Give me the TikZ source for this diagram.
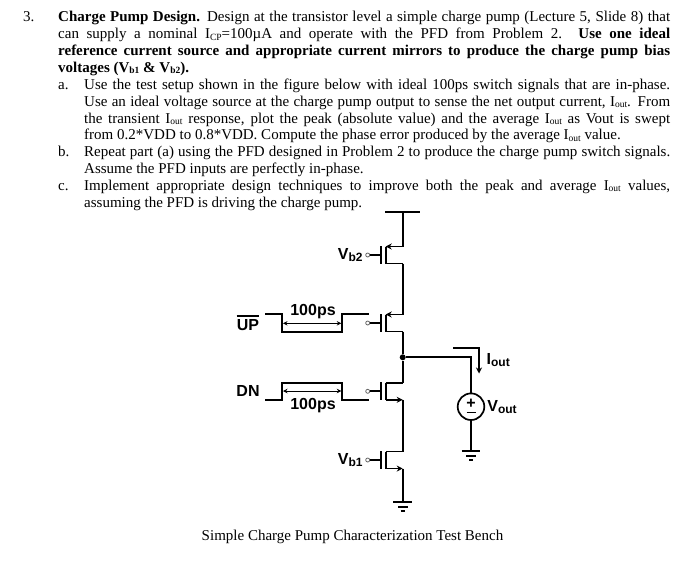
\documentclass[tikz,border=0pt]{standalone}
\usepackage{fontspec}
\setmainfont{Liberation Serif}
\newfontfamily\circuitfont{Liberation Sans}
\usetikzlibrary{positioning, arrows.meta}
\newcommand{\textsub}[1]{\raisebox{-0.2ex}{\fontsize{9.5}{10}\selectfont #1}}
\newcommand{\lblsub}[1]{\raisebox{-0.25ex}{\fontsize{12}{12}\selectfont #1}}
\tikzset{wire/.style={draw=black, line width=1.7pt},
  pulse/.style={draw=black, line width=1.8pt},
  span/.style={draw=black, line width=0.9pt, {Stealth[length=4.5pt,width=4.5pt]}-{Stealth[length=4.5pt,width=4.5pt]}},
  tip/.style={draw=black, line width=1.7pt, -{Stealth[length=6pt,width=6pt]}},
  bubble/.style={draw=black!60, circle, fill=white, line width=0.8pt, inner sep=0pt, minimum size=4pt},
  dot/.style={fill=black, circle, inner sep=0pt, minimum size=6pt},
  lbl/.style={font=\circuitfont\bfseries\fontsize{16}{18}\selectfont, inner sep=0pt},
  para/.style={anchor=north west, inner sep=0pt, align=justify, font=\fontsize{15}{16.85}\selectfont},
  item/.style={anchor=north west, inner sep=0pt, font=\fontsize{15}{16.85}\selectfont}}

\begin{document}
\begin{tikzpicture}[x=1pt, y=-1pt]
\useasboundingbox (0,0) rectangle (700,579);
% problem text
\node[item] (numq) at (23,10) {\strut 3.};
\node[para, text width=612pt] (question) at (58,10) {\strut\textbf{Charge Pump Design.} Design at the transistor level a simple charge pump (Lecture 5, Slide 8) that\linebreak
can supply a nominal I\textsub{CP}=100µA and operate with the PFD from Problem 2. \textbf{Use one ideal\linebreak
reference current source and appropriate current mirrors to produce the charge pump bias\linebreak
voltages (V\textsub{b1} \& V\textsub{b2}).}};
\node[item] (numa) at (58,77.3) {\strut a.};
\node[para, text width=586pt] (parta) at (84,77.3) {\strut Use the test setup shown in the figure below with ideal 100ps switch signals that are in-phase.\linebreak
Use an ideal voltage source at the charge pump output to sense the net output current, I\textsub{out}. From\linebreak
the transient I\textsub{out} response, plot the peak (absolute value) and the average I\textsub{out} as Vout is swept\linebreak
from 0.2*VDD to 0.8*VDD. Compute the phase error produced by the average I\textsub{out} value.};
\node[item] (numb) at (58,144.7) {\strut b.};
\node[para, text width=586pt] (partb) at (84,144.7) {\strut Repeat part (a) using the PFD designed in Problem 2 to produce the charge pump switch signals.\linebreak
Assume the PFD inputs are perfectly in-phase.};
\node[item] (numc) at (58,178.4) {\strut c.};
\node[para, text width=586pt] (partc) at (84,178.4) {\strut Implement appropriate design techniques to improve both the peak and average I\textsub{out} values,\linebreak
assuming the PFD is driving the charge pump.};
% transistor terminals
\foreach \m/\y in {mbtwo/255, mup/323, mdn/391.3, mbone/460} {
  \coordinate (\m g) at (380.7,\y);
  \coordinate (\m gt) at (380.7,\y-9);
  \coordinate (\m gb) at (380.7,\y+9);
  \coordinate (\m ct) at (385.7,\y-8.5);
  \coordinate (\m cb) at (385.7,\y+8.5);
  \coordinate (\m t) at (402.7,\y-8.5);
  \coordinate (\m b) at (402.7,\y+8.5);
  \node[bubble] (\m in) at (367.7,\y) {};
  \draw[wire] (\m in) -- (\m g);
  \draw[wire] (\m gt) -- (\m gb);
  \draw[wire] (\m ct) -- (\m cb);
}
\foreach \m in {mbtwo, mup} {
  \draw[wire] (\m cb) -- (\m b);
  \draw[tip] (\m t) -- (\m ct);
}
\foreach \m in {mdn, mbone} {
  \draw[wire] (\m ct) -- (\m t);
  \draw[tip] (\m cb) -- (\m b);
}
% stack
\coordinate (vddl) at (385,212);
\coordinate (vddr) at (420,212);
\coordinate (vdd) at (402.7,212);
\coordinate (gndc) at (402.7,502.3);
\node[dot] (out) at (402.7,357.3) {};
\draw[wire] (vddl) -- (vddr);
\draw[wire] (vdd) -- (mbtwot);
\draw[wire] (mbtwob) -- (mupt);
\draw[wire] (mupb) -- (out);
\draw[wire] (out) -- (mdnt);
\draw[wire] (mdnb) -- (mbonet);
\draw[wire] (mboneb) -- (gndc);
\draw[wire] (393,502.3) -- (412,502.3);
\draw[wire] (398,507) -- (407.5,507);
\draw[wire] (400.5,511) -- (405,511);
% voltage source
\node[draw=black, circle, line width=1.7pt, minimum size=26.6pt, inner sep=0pt] (vsrc) at (471,406.7) {};
\node[inner sep=0pt, font=\circuitfont\bfseries\fontsize{16}{16}\selectfont] (vsrcp) at (471,403.5) {+};
\draw[wire] (466.5,412.5) -- (475.5,412.5);
\coordinate (outr) at (471,357.3);
\coordinate (gndv) at (471,450.7);
\draw[wire] (out) -- (outr) -- (vsrc);
\draw[wire] (vsrc) -- (gndv);
\draw[wire] (461.7,450.7) -- (480,450.7);
\draw[wire] (466,455.7) -- (476,455.7);
\draw[wire] (469,460) -- (473,460);
% output current
\coordinate (ioutl) at (453,348.3);
\coordinate (ioutc) at (479,348.3);
\coordinate (ioutb) at (479,373.5);
\draw[tip] (ioutl) -- (ioutc) -- (ioutb);
\node[lbl, anchor=west] (iout) at (486.5,360) {I\lblsub{out}};
\node[lbl, right=2pt of vsrc] (vout) {V\lblsub{out}};
% up pulse
\coordinate (upa) at (265,314);
\coordinate (upb) at (282,314);
\coordinate (upc) at (282,331.7);
\coordinate (upd) at (342.3,331.7);
\coordinate (upe) at (342.3,314);
\coordinate (upf) at (369,314);
\draw[pulse] (upa) -- (upb) -- (upc) -- (upd) -- (upe) -- (upf);
\draw[span] (283,323.3) -- (341.3,323.3);
\node[lbl] (upwidth) at (313,311.5) {100ps};
\node[lbl] (uplbl) at (248,325) {UP};
\draw[wire] ([yshift=3pt]uplbl.north west) -- ([yshift=3pt]uplbl.north east);
% dn pulse
\coordinate (dna) at (265,400);
\coordinate (dnb) at (282,400);
\coordinate (dnc) at (282,382.7);
\coordinate (dnd) at (342.3,382.7);
\coordinate (dne) at (342.3,400);
\coordinate (dnf) at (369,400);
\draw[pulse] (dna) -- (dnb) -- (dnc) -- (dnd) -- (dne) -- (dnf);
\draw[span] (283,391) -- (341.3,391);
\node[lbl] (dnwidth) at (313,405.5) {100ps};
\node[lbl] (dnlbl) at (248,391) {DN};
% bias labels
\node[lbl, left=2.5pt of mbtwoin] (vbtwo) {V\lblsub{b2}};
\node[lbl, left=2.5pt of mbonein] (vbone) {V\lblsub{b1}};
% caption
\node[inner sep=0pt, font=\fontsize{15}{16}\selectfont] (caption) at (352.5,537) {Simple Charge Pump Characterization Test Bench};
\end{tikzpicture}
\end{document}
